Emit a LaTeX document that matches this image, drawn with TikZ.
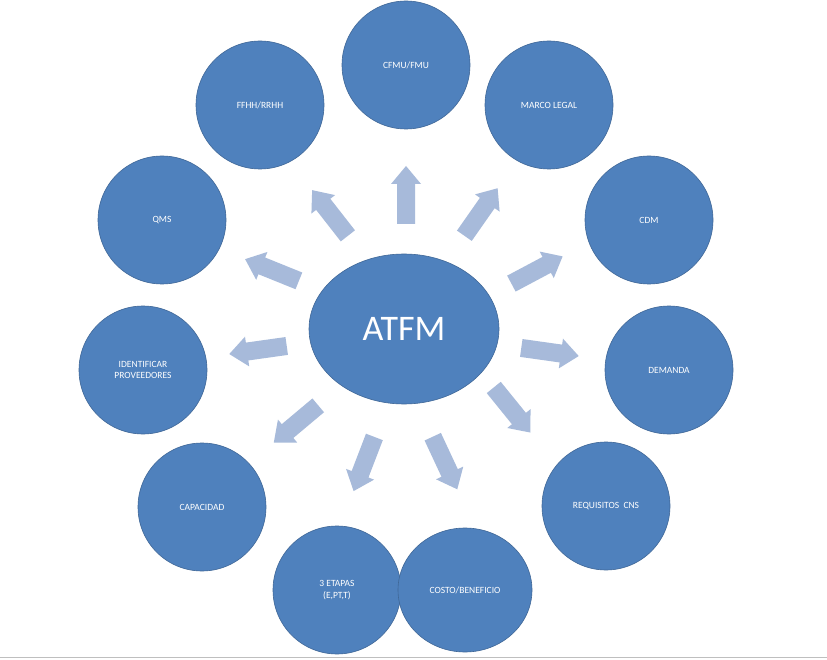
\documentclass[tikz,border=0pt]{standalone}
\usepackage{fontspec}
\setmainfont{Carlito}
\usetikzlibrary{shapes.geometric}
\definecolor{cblue}{HTML}{4F81BD}
\definecolor{ablue}{HTML}{A7BADA}
\tikzset{
 circ/.style={circle,fill=cblue,draw=cblue!80!black,line width=0.6pt,minimum size=128pt,inner sep=0pt,text=white,font=\fontsize{9.5}{11.5}\selectfont,align=center},
 blockarrow/.pic={\fill[ablue] (-29,-9) -- (11,-9) -- (11,-15) -- (29,0) -- (11,15) -- (11,9) -- (-29,9) -- cycle;}
}
\begin{document}
\begin{tikzpicture}[x=1pt,y=-1pt]
\useasboundingbox (0,0) rectangle (827,660);
\fill[white] (0,0) rectangle (827,660);
\draw[gray!50,line width=1pt] (0,657) -- (827,657);
\node[ellipse,fill=cblue,draw=cblue!80!black,line width=0.6pt,minimum width=190pt,minimum height=150pt,text=white,font=\fontsize{36}{38}\selectfont] (c) at (404,329) {ATFM};
\node[circ] (n1) at (406,65) {CFMU/FMU};
\node[circ] (n2) at (549,105) {MARCO LEGAL};
\node[circ] (n3) at (649,220) {CDM};
\node[circ] (n4) at (669,370) {DEMANDA};
\node[circ] (n5) at (606,506) {REQUISITOS\ \ CNS};
\node[circ] (n7) at (337,590) {3 ETAPAS\\(E,PT,T)};
\node[circ,ellipse,minimum width=134pt,minimum height=124pt] (n6) at (465,590) {COSTO/BENEFICIO};
\node[circ] (n8) at (202,507) {CAPACIDAD};
\node[circ] (n9) at (143,370) {IDENTIFICAR\\PROVEEDORES};
\node[circ] (n10) at (162,220) {QMS};
\node[circ] (n11) at (260,105) {FFHH/RRHH};
\pic[rotate=90] at (406,195) {blockarrow};
\pic[rotate=55] at (481,212) {blockarrow};
\pic[rotate=28] at (537,270) {blockarrow};
\pic[rotate=-8] at (550,352) {blockarrow};
\pic[rotate=-51] at (512,410) {blockarrow};
\pic[rotate=-65] at (445,463) {blockarrow};
\pic[rotate=-111] at (364,464) {blockarrow};
\pic[rotate=-140] at (296,424) {blockarrow};
\pic[rotate=-172] at (258,350) {blockarrow};
\pic[rotate=158] at (272,270) {blockarrow};
\pic[rotate=128] at (330,213) {blockarrow};
\end{tikzpicture}
\end{document}
